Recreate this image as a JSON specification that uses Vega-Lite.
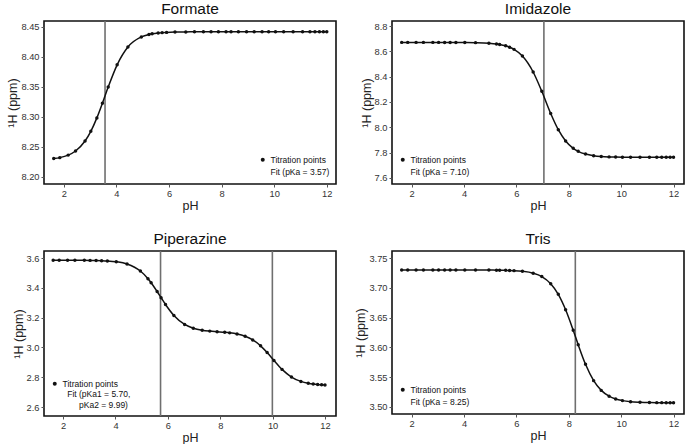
{
  "$schema": "https://vega.github.io/schema/vega-lite/v6.json",
  "padding": {"left": 6, "top": 0, "right": 0, "bottom": 0},
  "background": "white",
  "spacing": {"row": 17, "column": 17},
  "config": {
    "font": "Liberation Sans",
    "view": {"stroke": "#111", "strokeWidth": 1.6},
    "title": {"fontSize": 15.5, "fontWeight": "normal", "color": "#111", "offset": 3},
    "axis": {
      "domain": false, "grid": false, "ticks": true, "tickSize": 3, "tickColor": "#555",
      "labelFontSize": 9.3, "labelColor": "#333", "labelPadding": 2, "labelOverlap": false,
      "titleFontSize": 12.5, "titleFontWeight": "normal", "titleColor": "#222", "titlePadding": 1
    },
    "legend": {
      "labelFontSize": 8.5, "labelColor": "#111", "symbolSize": 16, "rowPadding": 3.5,
      "padding": 2.5, "offset": 4, "symbolOffset": 0, "labelOffset": 3.5
    }
  },
  "datasets": {
    "formate": [
      {"pH": 1.62, "shift": 8.2304}, {"pH": 1.85, "shift": 8.2320}, {"pH": 2.17, "shift": 8.2362},
      {"pH": 2.45, "shift": 8.2431}, {"pH": 2.81, "shift": 8.2597}, {"pH": 3.03, "shift": 8.2759},
      {"pH": 3.26, "shift": 8.2983}, {"pH": 3.47, "shift": 8.3227}, {"pH": 3.69, "shift": 8.3497},
      {"pH": 4.03, "shift": 8.3869}, {"pH": 4.44, "shift": 8.4166}, {"pH": 4.95, "shift": 8.4334},
      {"pH": 5.24, "shift": 8.4375}, {"pH": 5.36, "shift": 8.4386}, {"pH": 5.59, "shift": 8.4400},
      {"pH": 5.74, "shift": 8.4406}, {"pH": 5.91, "shift": 8.4410}, {"pH": 6.23, "shift": 8.4415},
      {"pH": 6.64, "shift": 8.4418}, {"pH": 6.97, "shift": 8.4419}, {"pH": 7.31, "shift": 8.4420},
      {"pH": 7.60, "shift": 8.4420}, {"pH": 7.88, "shift": 8.4420}, {"pH": 8.17, "shift": 8.4420},
      {"pH": 8.36, "shift": 8.4420}, {"pH": 8.64, "shift": 8.4420}, {"pH": 8.95, "shift": 8.4420},
      {"pH": 9.24, "shift": 8.4420}, {"pH": 9.54, "shift": 8.4420}, {"pH": 9.79, "shift": 8.4420},
      {"pH": 10.05, "shift": 8.4420}, {"pH": 10.36, "shift": 8.4420}, {"pH": 10.72, "shift": 8.4420},
      {"pH": 11.08, "shift": 8.4420}, {"pH": 11.36, "shift": 8.4420}, {"pH": 11.55, "shift": 8.4420},
      {"pH": 11.72, "shift": 8.4420}, {"pH": 11.87, "shift": 8.4420}, {"pH": 12.0, "shift": 8.4420}
    ],
    "imidazole": [
      {"pH": 1.62, "shift": 8.6710}, {"pH": 1.85, "shift": 8.6710}, {"pH": 2.17, "shift": 8.6710},
      {"pH": 2.45, "shift": 8.6710}, {"pH": 2.81, "shift": 8.6710}, {"pH": 3.03, "shift": 8.6710},
      {"pH": 3.26, "shift": 8.6709}, {"pH": 3.47, "shift": 8.6708}, {"pH": 3.69, "shift": 8.6706},
      {"pH": 4.03, "shift": 8.6702}, {"pH": 4.44, "shift": 8.6690}, {"pH": 4.95, "shift": 8.6646},
      {"pH": 5.24, "shift": 8.6586}, {"pH": 5.36, "shift": 8.6548}, {"pH": 5.59, "shift": 8.6438},
      {"pH": 5.74, "shift": 8.6330}, {"pH": 5.91, "shift": 8.6159}, {"pH": 6.23, "shift": 8.5631},
      {"pH": 6.64, "shift": 8.4372}, {"pH": 6.97, "shift": 8.2844}, {"pH": 7.31, "shift": 8.1093},
      {"pH": 7.60, "shift": 7.9812}, {"pH": 7.88, "shift": 7.8922}, {"pH": 8.17, "shift": 7.8342},
      {"pH": 8.36, "shift": 7.8103}, {"pH": 8.64, "shift": 7.7884}, {"pH": 8.95, "shift": 7.7757},
      {"pH": 9.24, "shift": 7.7695}, {"pH": 9.54, "shift": 7.7663}, {"pH": 9.79, "shift": 7.7649},
      {"pH": 10.05, "shift": 7.7640}, {"pH": 10.36, "shift": 7.7635}, {"pH": 10.72, "shift": 7.7632},
      {"pH": 11.08, "shift": 7.7631}, {"pH": 11.36, "shift": 7.7630}, {"pH": 11.55, "shift": 7.7630},
      {"pH": 11.72, "shift": 7.7630}, {"pH": 11.87, "shift": 7.7630}, {"pH": 12.0, "shift": 7.7630}
    ],
    "piperazine": [
      {"pH": 1.62, "shift": 3.5850}, {"pH": 1.85, "shift": 3.5849}, {"pH": 2.17, "shift": 3.5849},
      {"pH": 2.45, "shift": 3.5847}, {"pH": 2.81, "shift": 3.5844}, {"pH": 3.03, "shift": 3.5840},
      {"pH": 3.26, "shift": 3.5833}, {"pH": 3.47, "shift": 3.5822}, {"pH": 3.69, "shift": 3.5804},
      {"pH": 4.03, "shift": 3.5749}, {"pH": 4.44, "shift": 3.5600}, {"pH": 4.95, "shift": 3.5125},
      {"pH": 5.24, "shift": 3.4614}, {"pH": 5.36, "shift": 3.4344}, {"pH": 5.59, "shift": 3.3752},
      {"pH": 5.74, "shift": 3.3340}, {"pH": 5.91, "shift": 3.2881}, {"pH": 6.23, "shift": 3.2144},
      {"pH": 6.64, "shift": 3.1544}, {"pH": 6.97, "shift": 3.1292}, {"pH": 7.31, "shift": 3.1157},
      {"pH": 7.60, "shift": 3.1095}, {"pH": 7.88, "shift": 3.1054}, {"pH": 8.17, "shift": 3.1013},
      {"pH": 8.36, "shift": 3.0978}, {"pH": 8.64, "shift": 3.0902}, {"pH": 8.95, "shift": 3.0749},
      {"pH": 9.24, "shift": 3.0506}, {"pH": 9.54, "shift": 3.0107}, {"pH": 9.79, "shift": 2.9657},
      {"pH": 10.05, "shift": 2.9126}, {"pH": 10.36, "shift": 2.8527}, {"pH": 10.72, "shift": 2.8015},
      {"pH": 11.08, "shift": 2.7721}, {"pH": 11.36, "shift": 2.7598}, {"pH": 11.55, "shift": 2.7546},
      {"pH": 11.72, "shift": 2.7516}, {"pH": 11.87, "shift": 2.7497}, {"pH": 12.0, "shift": 2.7485}
    ],
    "tris": [
      {"pH": 1.62, "shift": 3.7300}, {"pH": 1.85, "shift": 3.7300}, {"pH": 2.17, "shift": 3.7300},
      {"pH": 2.45, "shift": 3.7300}, {"pH": 2.81, "shift": 3.7300}, {"pH": 3.03, "shift": 3.7300},
      {"pH": 3.26, "shift": 3.7300}, {"pH": 3.47, "shift": 3.7300}, {"pH": 3.69, "shift": 3.7300},
      {"pH": 4.03, "shift": 3.7300}, {"pH": 4.44, "shift": 3.7300}, {"pH": 4.95, "shift": 3.7299},
      {"pH": 5.24, "shift": 3.7298}, {"pH": 5.36, "shift": 3.7297}, {"pH": 5.59, "shift": 3.7295},
      {"pH": 5.74, "shift": 3.7293}, {"pH": 5.91, "shift": 3.7290}, {"pH": 6.23, "shift": 3.7279},
      {"pH": 6.64, "shift": 3.7247}, {"pH": 6.97, "shift": 3.7190}, {"pH": 7.31, "shift": 3.7070},
      {"pH": 7.60, "shift": 3.6892}, {"pH": 7.88, "shift": 3.6633}, {"pH": 8.17, "shift": 3.6288},
      {"pH": 8.36, "shift": 3.6045}, {"pH": 8.64, "shift": 3.5715}, {"pH": 8.95, "shift": 3.5441},
      {"pH": 9.24, "shift": 3.5277}, {"pH": 9.54, "shift": 3.5179}, {"pH": 9.79, "shift": 3.5132},
      {"pH": 10.05, "shift": 3.5105}, {"pH": 10.36, "shift": 3.5087}, {"pH": 10.72, "shift": 3.5078},
      {"pH": 11.08, "shift": 3.5073}, {"pH": 11.36, "shift": 3.5071}, {"pH": 11.55, "shift": 3.5071},
      {"pH": 11.72, "shift": 3.5070}, {"pH": 11.87, "shift": 3.5070}, {"pH": 12.0, "shift": 3.5070}
    ]
  },
  "columns": 2,
  "resolve": {
    "scale": {"x": "independent", "y": "independent", "color": "independent"},
    "legend": {"color": "independent"}
  },
  "concat": [
    {
      "title": "Formate",
      "width": 292, "height": 163,
      "layer": [
        {
          "data": {"values": [{"pKa": 3.57}]},
          "mark": {"type": "rule", "color": "#6f6f6f", "strokeWidth": 1.6},
          "encoding": {"x": {"field": "pKa", "type": "quantitative"}}
        },
        {
          "data": {"name": "formate"},
          "encoding": {
            "x": {"field": "pH", "type": "quantitative", "title": "pH",
                  "scale": {"domain": [1.25, 12.35], "nice": false, "zero": false},
                  "axis": {"values": [2, 4, 6, 8, 10, 12]}},
            "y": {"field": "shift", "type": "quantitative", "title": "¹H (ppm)",
                  "scale": {"domain": [8.188, 8.46], "nice": false, "zero": false},
                  "axis": {"values": [8.2, 8.25, 8.3, 8.35, 8.4, 8.45], "format": ".2f"}}
          },
          "layer": [
            {"mark": {"type": "line", "color": "#111", "strokeWidth": 1.5, "interpolate": "monotone"}},
            {
              "mark": {"type": "circle", "size": 12, "opacity": 1},
              "encoding": {
                "color": {"datum": "Titration points", "type": "nominal",
                          "scale": {"domain": ["Titration points", "Fit (pKa = 3.57)"], "range": ["#111", "white"]},
                          "legend": {"title": null, "orient": "bottom-right"}}
              }
            }
          ]
        }
      ]
    },
    {
      "title": "Imidazole",
      "width": 292, "height": 163,
      "layer": [
        {
          "data": {"values": [{"pKa": 7.05}]},
          "mark": {"type": "rule", "color": "#6f6f6f", "strokeWidth": 1.6},
          "encoding": {"x": {"field": "pKa", "type": "quantitative"}}
        },
        {
          "data": {"name": "imidazole"},
          "encoding": {
            "x": {"field": "pH", "type": "quantitative", "title": "pH",
                  "scale": {"domain": [1.25, 12.4], "nice": false, "zero": false},
                  "axis": {"values": [2, 4, 6, 8, 10, 12]}},
            "y": {"field": "shift", "type": "quantitative", "title": "¹H (ppm)",
                  "scale": {"domain": [7.552, 8.84], "nice": false, "zero": false},
                  "axis": {"values": [7.6, 7.8, 8.0, 8.2, 8.4, 8.6, 8.8], "format": ".1f"}}
          },
          "layer": [
            {"mark": {"type": "line", "color": "#111", "strokeWidth": 1.5, "interpolate": "monotone"}},
            {
              "mark": {"type": "circle", "size": 12, "opacity": 1},
              "encoding": {
                "color": {"datum": "Titration points", "type": "nominal",
                          "scale": {"domain": ["Titration points", "Fit (pKa = 7.10)"], "range": ["#111", "white"]},
                          "legend": {"title": null, "orient": "bottom-left"}}
              }
            }
          ]
        }
      ]
    },
    {
      "title": "Piperazine",
      "width": 292, "height": 165,
      "layer": [
        {
          "data": {"values": [{"pKa": 5.72}, {"pKa": 9.99}]},
          "mark": {"type": "rule", "color": "#6f6f6f", "strokeWidth": 1.6},
          "encoding": {"x": {"field": "pKa", "type": "quantitative"}}
        },
        {
          "data": {"name": "piperazine"},
          "encoding": {
            "x": {"field": "pH", "type": "quantitative", "title": "pH",
                  "scale": {"domain": [1.27, 12.42], "nice": false, "zero": false},
                  "axis": {"values": [2, 4, 6, 8, 10, 12]}},
            "y": {"field": "shift", "type": "quantitative", "title": "¹H (ppm)",
                  "scale": {"domain": [2.54, 3.647], "nice": false, "zero": false},
                  "axis": {"values": [2.6, 2.8, 3.0, 3.2, 3.4, 3.6], "format": ".1f"}}
          },
          "layer": [
            {"mark": {"type": "line", "color": "#111", "strokeWidth": 1.5, "interpolate": "monotone"}},
            {
              "mark": {"type": "circle", "size": 12, "opacity": 1},
              "encoding": {
                "color": {"datum": "Titration points", "type": "nominal",
                          "scale": {"domain": ["Titration points", "\u200b\u00a0\u00a0Fit (pKa1 = 5.70,", "\u200b\u00a0\u00a0\u00a0\u00a0\u00a0\u00a0\u00a0pKa2 = 9.99)"], "range": ["#111", "white", "white"]},
                          "legend": {"title": null, "orient": "bottom-left", "rowPadding": 1.5}}
              }
            }
          ]
        }
      ]
    },
    {
      "title": "Tris",
      "width": 292, "height": 163,
      "layer": [
        {
          "data": {"values": [{"pKa": 8.25}]},
          "mark": {"type": "rule", "color": "#6f6f6f", "strokeWidth": 1.6},
          "encoding": {"x": {"field": "pKa", "type": "quantitative"}}
        },
        {
          "data": {"name": "tris"},
          "encoding": {
            "x": {"field": "pH", "type": "quantitative", "title": "pH",
                  "scale": {"domain": [1.25, 12.4], "nice": false, "zero": false},
                  "axis": {"values": [2, 4, 6, 8, 10, 12]}},
            "y": {"field": "shift", "type": "quantitative", "title": "¹H (ppm)",
                  "scale": {"domain": [3.488, 3.762], "nice": false, "zero": false},
                  "axis": {"values": [3.5, 3.55, 3.6, 3.65, 3.7, 3.75], "format": ".2f"}}
          },
          "layer": [
            {"mark": {"type": "line", "color": "#111", "strokeWidth": 1.5, "interpolate": "monotone"}},
            {
              "mark": {"type": "circle", "size": 12, "opacity": 1},
              "encoding": {
                "color": {"datum": "Titration points", "type": "nominal",
                          "scale": {"domain": ["Titration points", "Fit (pKa = 8.25)"], "range": ["#111", "white"]},
                          "legend": {"title": null, "orient": "bottom-left"}}
              }
            }
          ]
        }
      ]
    }
  ]
}
